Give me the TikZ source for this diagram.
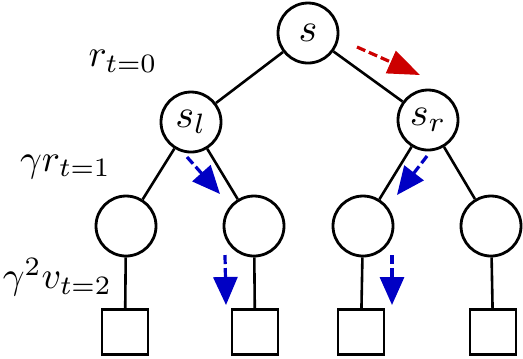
\documentclass[tikz,border=0pt]{standalone}
\usetikzlibrary{arrows.meta}
\definecolor{arrred}{RGB}{204,0,0}
\definecolor{arrblue}{RGB}{0,0,196}
\begin{document}
\begin{tikzpicture}[x=0.25pt,y=-0.25pt,
  state/.style={circle,draw,line width=0.7pt,minimum size=15pt,inner sep=0pt},
  leaf/.style={rectangle,draw,line width=0.7pt,minimum width=11.5pt,minimum height=11.2pt,inner sep=0pt},
  edge/.style={line width=0.65pt},
  lbl/.style={inner sep=0pt,scale=0.95},
  redarr/.style={arrred,line width=0.8pt,dash pattern=on 2.25pt off 1pt,-{Triangle[length=8pt,width=6pt]}},
  bluearr/.style={arrblue,line width=0.8pt,dash pattern=on 2.25pt off 1pt,-{Triangle[length=7pt,width=6pt]}}]
\useasboundingbox (0,0) rectangle (523,358);
% nodes
\node[state] (s) at (308,33) {$s$};
\node[state] (sl) at (191,122) {$s_l$};
\node[state] (sr) at (428,120) {$s_r$};
\node[state] (c1) at (126,226) {};
\node[state] (c2) at (254,226) {};
\node[state] (c3) at (363,226) {};
\node[state] (c4) at (491,226) {};
\node[leaf] (q1) at (125,332) {};
\node[leaf] (q2) at (255,332) {};
\node[leaf] (q3) at (361,332) {};
\node[leaf] (q4) at (493,332) {};
% edges
\draw[edge] (s) -- (sl);
\draw[edge] (s) -- (sr);
\draw[edge] (sl) -- (c1);
\draw[edge] (sl) -- (c2);
\draw[edge] (sr) -- (c3);
\draw[edge] (sr) -- (c4);
\draw[edge] (c1) -- (q1);
\draw[edge] (c2) -- (q2);
\draw[edge] (c3) -- (q3);
\draw[edge] (c4) -- (q4);
% labels
\node[lbl] (l0) at (123,61) {$r_{t=0}$};
\node[lbl] (l1) at (65.5,166.5) {$\gamma r_{t=1}$};
\node[lbl,anchor=west] (l2) at (2,277) {$\gamma^2 v_{t=2}$};
% arrows
\coordinate (ra) at (357,47);
\coordinate (rb) at (420,75);
\coordinate (b1a) at (187,157);
\coordinate (b1b) at (220,194);
\coordinate (b2a) at (225,255);
\coordinate (b2b) at (226,305);
\coordinate (b3a) at (427,156);
\coordinate (b3b) at (397,195);
\coordinate (b4a) at (392,255);
\coordinate (b4b) at (392,305);
\draw[redarr] (ra) -- (rb);
\draw[bluearr] (b1a) -- (b1b);
\draw[bluearr] (b2a) -- (b2b);
\draw[bluearr] (b3a) -- (b3b);
\draw[bluearr] (b4a) -- (b4b);
\end{tikzpicture}
\end{document}
